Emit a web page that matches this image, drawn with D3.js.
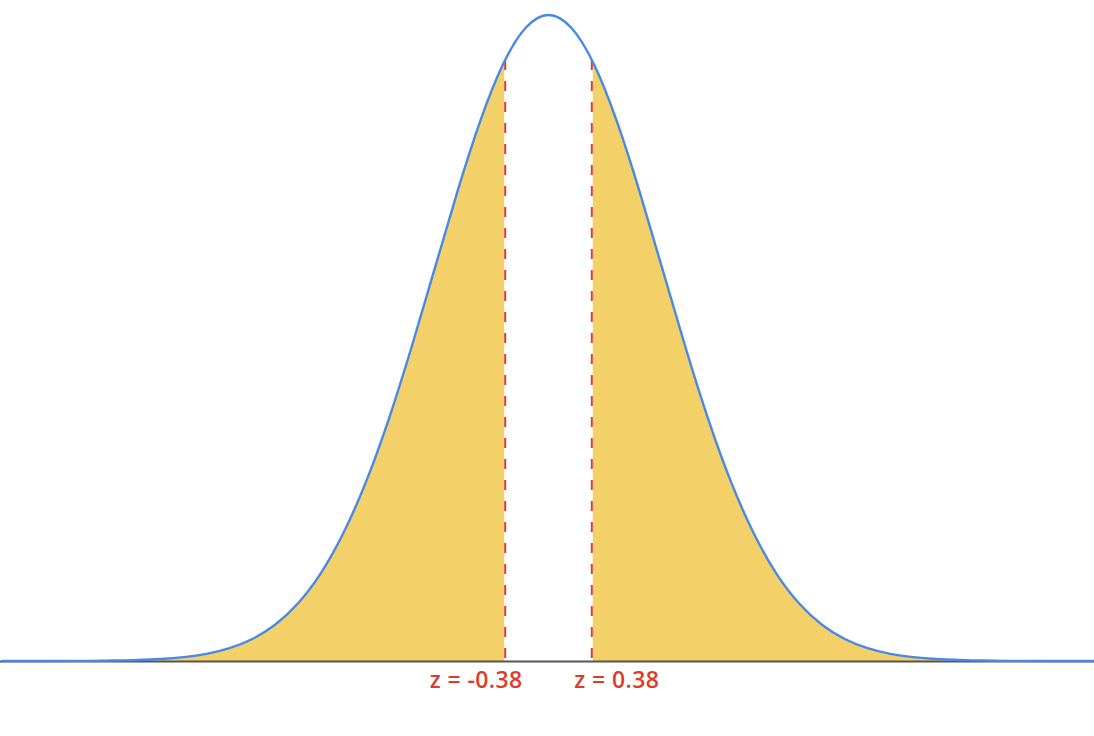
<!DOCTYPE html>
<html>
<head>
<meta charset="utf-8">
<script src="https://cdn.jsdelivr.net/npm/d3@7"></script>
<style>
html,body{margin:0;padding:0;background:#fff;}
svg{display:block;}
</style>
</head>
<body>
<svg id="chart" width="1094" height="736"></svg>
<script>
// z values and standard normal density
const zValues = [-4.8,-4.6,-4.4,-4.2,-4.0,-3.8,-3.6,-3.4,-3.2,-3.0,-2.8,-2.6,-2.4,-2.2,-2.0,-1.8,-1.6,-1.4,-1.2,-1.0,-0.8,-0.6,-0.4,-0.2,0,
  0.2,0.4,0.6,0.8,1.0,1.2,1.4,1.6,1.8,2.0,2.2,2.4,2.6,2.8,3.0,3.2,3.4,3.6,3.8,4.0,4.2,4.4,4.6,4.8];
const density = [0.0000,0.0000,0.0000,0.0001,0.0001,0.0003,0.0006,0.0012,0.0024,0.0044,0.0079,0.0136,0.0224,0.0355,0.0540,0.0790,0.1109,0.1497,0.1942,0.2420,0.2897,0.3332,0.3683,0.3910,0.3989,
  0.3910,0.3683,0.3332,0.2897,0.2420,0.1942,0.1497,0.1109,0.0790,0.0540,0.0355,0.0224,0.0136,0.0079,0.0044,0.0024,0.0012,0.0006,0.0003,0.0001,0.0001,0.0000,0.0000,0.0000];
const criticalZ = [-0.38, 0.38];
const criticalLabels = ["z = -0.38", "z = 0.38"];
const peakDensity = 0.3989;

const svg = d3.select("#chart");
const W = 1094;
const x = d3.scaleLinear().domain([-4.8, 4.8]).range([1.5, W + 1.5]);
const y = d3.scaleLinear().domain([0, peakDensity]).range([661, 15]);

const pts = zValues.map((z, i) => ({z, d: density[i]}));

// clip: outside the critical interval
const defs = svg.append("defs");
const clip = defs.append("clipPath").attr("id", "tails");
clip.append("rect").attr("x", 0).attr("y", 0)
  .attr("width", x(criticalZ[0]) - 1).attr("height", 736);
clip.append("rect").attr("x", x(criticalZ[1]) + 1).attr("y", 0)
  .attr("width", W - x(criticalZ[1]) - 1).attr("height", 736);

const area = d3.area().x(p => x(p.z)).y0(y(0)).y1(p => y(p.d)).curve(d3.curveNatural);
const line = d3.line().x(p => x(p.z)).y(p => y(p.d)).curve(d3.curveNatural);

svg.append("path").datum(pts).attr("d", area)
  .attr("fill", "#f4d068").attr("clip-path", "url(#tails)");

// baseline
svg.append("line").attr("x1", 0).attr("x2", W).attr("y1", y(0) + 0.5).attr("y2", y(0) + 0.5)
  .attr("stroke", "#555").attr("stroke-width", 2);

// dashed critical lines
const densAt = z => Math.exp(-z * z / 2) / Math.sqrt(2 * Math.PI);
svg.selectAll(".crit").data(criticalZ).enter().append("line")
  .attr("x1", d => x(d)).attr("x2", d => x(d))
  .attr("y1", d => y(densAt(d))).attr("y2", y(0))
  .attr("stroke", "#de3b2b").attr("stroke-width", 2)
  .attr("stroke-dasharray", "10,11");

// curve
svg.append("path").datum(pts).attr("d", line)
  .attr("fill", "none").attr("stroke", "#4a88e6").attr("stroke-width", 2.4);

// labels
const offsets = [-29, 25];
svg.selectAll(".lab").data(criticalZ).enter().append("text")
  .attr("x", (d, i) => x(d) + offsets[i]).attr("y", 688)
  .attr("text-anchor", "middle")
  .attr("font-family", "'Open Sans', sans-serif").attr("font-weight", 600)
  .attr("font-size", 23).attr("letter-spacing", 0.4).attr("fill", "#de3b2b")
  .text((d, i) => criticalLabels[i]);
</script>
</body>
</html>
